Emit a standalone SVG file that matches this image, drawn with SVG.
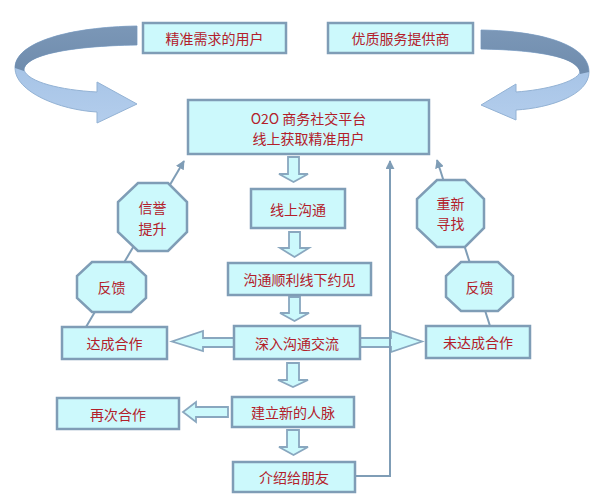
<svg xmlns="http://www.w3.org/2000/svg" width="596" height="496" viewBox="0 0 596 496">
<defs>
<style>
.box{fill:#ccf9fc;stroke:#7f9db6;stroke-width:2.5}
.oct{fill:#ccf9fc;stroke:#7f9db6;stroke-width:2.5}
.blk{fill:#ccf9fc;stroke:#89a7bf;stroke-width:1.8;stroke-linejoin:miter}
.ln{fill:none;stroke:#7f9db6;stroke-width:2}
.t{font-family:"Noto Sans CJK SC","Microsoft YaHei",sans-serif;font-size:14px;fill:#b3202a;text-anchor:middle;dominant-baseline:central}
</style>
<marker id="ah" viewBox="0 0 10 10" refX="9" refY="5" markerWidth="4.5" markerHeight="4.5" orient="auto" markerUnits="strokeWidth">
<path d="M0,0 L10,5 L0,10 Z" fill="#7f9db6"/>
</marker>
<linearGradient id="lightL" x1="0" y1="0" x2="0" y2="1">
<stop offset="0" stop-color="#9dbde2"/><stop offset="1" stop-color="#b3cdec"/>
</linearGradient>
<linearGradient id="darkL" x1="0" y1="0" x2="0" y2="1">
<stop offset="0" stop-color="#7b97b7"/><stop offset="1" stop-color="#6f8cad"/>
</linearGradient>
</defs>
<rect width="596" height="496" fill="#ffffff"/>

<g id="curved-arrows">
<g id="arrow-left">
<path d="M137,26 C70,27 15,42 15,68 C15,92 60,110 97,112 L97,123 L137,104 L97,82 L97,92 C60,90 28,82 24,70 C24,55 70,46 137,45 Z" fill="url(#lightL)" stroke="#93b2d4" stroke-width="1"/>
<path d="M137,26 C70,27 15,42 15,68 L24,71 C24,55 70,46 137,45 Z" fill="url(#darkL)"/>
</g>
<g id="arrow-right">
<path d="M481,30 C545,31 589,46 589,72 C589,95 550,108 516,110 L516,120 L481,105 L516,84 L516,92 C545,90 577,82 580,72 C580,58 540,50 481,49 Z" fill="url(#lightL)" stroke="#93b2d4" stroke-width="1"/>
<path d="M481,30 C545,31 589,46 589,72 L580,74 C580,58 540,50 481,49 Z" fill="url(#darkL)"/>
</g>
</g>

<g id="connectors">
<line class="ln" x1="86" y1="327" x2="184" y2="161" marker-end="url(#ah)"/>
<line class="ln" x1="490" y1="326" x2="437" y2="160" marker-end="url(#ah)"/>
<!-- block arrows down -->
<path class="blk" d="M288,157 L299,157 L299,174 L308,174 L293.5,182 L279,174 L288,174 Z"/>
<path class="blk" d="M289,232 L300,232 L300,248 L309,248 L294.5,257 L280,248 L289,248 Z"/>
<path class="blk" d="M289,297 L300,297 L300,313 L309,313 L294.5,321 L280,313 L289,313 Z"/>
<path class="blk" d="M287,363 L299,363 L299,380 L308,380 L293,387 L278,380 L287,380 Z"/>
<path class="blk" d="M287,430 L299,430 L299,447 L308,447 L293.5,455 L279,447 L287,447 Z"/>
<!-- side block arrows -->
<path class="blk" d="M235,338 L203,338 L203,331 L172,341.5 L203,351 L203,347 L235,347 Z"/>
<path class="blk" d="M359,338 L391,338 L391,331 L422,341.5 L391,352 L391,347 L359,347 Z"/>
<path class="blk" d="M228,407 L196,407 L196,402 L183,412 L196,422 L196,417 L228,417 Z"/>
<polyline class="ln" points="355,476 390,476 390,161" marker-end="url(#ah)"/>
</g>

<g id="node-users"><rect class="box" x="143" y="23" width="143" height="30"/><text class="t" x="214.5" y="38">精准需求的用户</text></g>
<g id="node-providers"><rect class="box" x="328" y="23" width="145" height="30"/><text class="t" x="400.5" y="38">优质服务提供商</text></g>
<g id="node-platform"><rect class="box" x="188" y="100" width="241" height="54"/><text class="t" x="308.5" y="118">O2O 商务社交平台</text><text class="t" x="308.5" y="138">线上获取精准用户</text></g>
<g id="node-online"><rect class="box" x="251" y="189" width="94" height="39"/><text class="t" x="298" y="208.5">线上沟通</text></g>
<g id="node-offline"><rect class="box" x="228" y="263" width="143" height="32"/><text class="t" x="299.5" y="279">沟通顺利线下约见</text></g>
<g id="node-deep"><rect class="box" x="234" y="326" width="126" height="33"/><text class="t" x="297" y="342.5">深入沟通交流</text></g>
<g id="node-network"><rect class="box" x="232" y="397" width="122" height="30"/><text class="t" x="293" y="412">建立新的人脉</text></g>
<g id="node-friends"><rect class="box" x="233" y="462" width="122" height="30"/><text class="t" x="294" y="477">介绍给朋友</text></g>
<g id="node-again"><rect class="box" x="57" y="398" width="122" height="31"/><text class="t" x="118" y="413.5">再次合作</text></g>
<g id="node-success"><rect class="box" x="62" y="327" width="105" height="32"/><text class="t" x="114.5" y="343">达成合作</text></g>
<g id="node-fail"><rect class="box" x="426" y="326" width="104" height="32"/><text class="t" x="478" y="342">未达成合作</text></g>

<g id="node-credit"><polygon class="oct" points="138,183 168,183 187,202 187,232 168,251 138,251 118,232 118,202"/><text class="t" x="152.5" y="207">信誉</text><text class="t" x="152.5" y="228">提升</text></g>
<g id="node-feedback-left"><polygon class="oct" points="92,262 131,262 146,276 146,298 131,312 92,312 77,298 77,276"/><text class="t" x="111.5" y="287">反馈</text></g>
<g id="node-research"><polygon class="oct" points="437,180 465,180 484,199 484,228 465,247 437,247 417,228 417,199"/><text class="t" x="450.5" y="203">重新</text><text class="t" x="450.5" y="223">寻找</text></g>
<g id="node-feedback-right"><polygon class="oct" points="461,262 498,262 513,276 513,297 498,311 461,311 446,297 446,276"/><text class="t" x="479.5" y="286.5">反馈</text></g>
</svg>
